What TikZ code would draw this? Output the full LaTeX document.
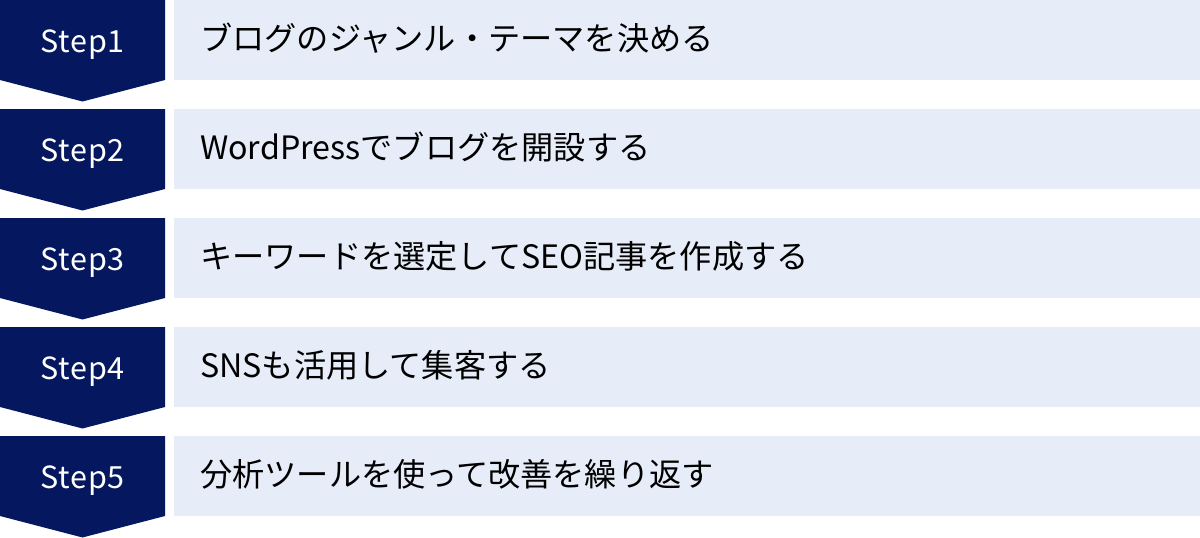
\documentclass[tikz,border=0pt]{standalone}
\usepackage{fontspec}
\setmainfont{Noto Sans CJK JP}
\newfontfamily\stepfont[LetterSpace=3]{Noto Sans CJK JP}
\definecolor{navy}{HTML}{05185F}
\definecolor{paleblue}{HTML}{E6ECF8}

\begin{document}
\begin{tikzpicture}[x=1pt,y=-1pt,
	stepbox/.style={fill=navy},
	steplabel/.style={text=white,inner sep=0pt,anchor=base,font=\stepfont\fontsize{30.5}{31}\selectfont},
	bar/.style={fill=paleblue,inner sep=0pt,minimum width=1026pt,minimum height=80pt,anchor=north west},
	bartext/.style={inner sep=0pt,anchor=base west,font=\fontsize{32.2}{33}\selectfont}]
	\useasboundingbox (0,0) rectangle (1200,538);
	%\draw[help lines,step=100] (0,0) grid (1200,538);

	\fill[stepbox] (0,0) -- (165,0) -- (165,80) -- (82.5,101.5) -- (0,80) -- cycle;
	\node[steplabel] (s1) at (82.5,52.5) {Step1};
	\node[bar] (b1) at (174,0) {};
	\node[bartext] (t1) at (200,50) {ブログのジャンル・テーマを決める};

	\fill[stepbox] (0,109) -- (165,109) -- (165,189) -- (82.5,210.5) -- (0,189) -- cycle;
	\node[steplabel] (s2) at (82.5,161.5) {Step2};
	\node[bar] (b2) at (174,109) {};
	\node[bartext] (t2) at (200,159) {WordPressでブログを開設する};

	\fill[stepbox] (0,218) -- (165,218) -- (165,298) -- (82.5,319.5) -- (0,298) -- cycle;
	\node[steplabel] (s3) at (82.5,270.5) {Step3};
	\node[bar] (b3) at (174,218) {};
	\node[bartext] (t3) at (200,268) {キーワードを選定してSEO記事を作成する};

	\fill[stepbox] (0,327) -- (165,327) -- (165,407) -- (82.5,428.5) -- (0,407) -- cycle;
	\node[steplabel] (s4) at (82.5,379.5) {Step4};
	\node[bar] (b4) at (174,327) {};
	\node[bartext] (t4) at (200,377) {SNSも活用して集客する};

	\fill[stepbox] (0,436) -- (165,436) -- (165,516) -- (82.5,537.5) -- (0,516) -- cycle;
	\node[steplabel] (s5) at (82.5,488.5) {Step5};
	\node[bar] (b5) at (174,436) {};
	\node[bartext] (t5) at (200,486) {分析ツールを使って改善を繰り返す};

\end{tikzpicture}
\end{document}
